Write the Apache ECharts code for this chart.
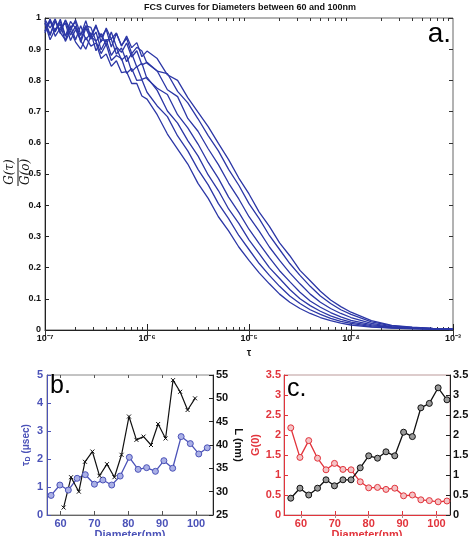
<!DOCTYPE html>
<html>
<head>
<meta charset="utf-8" />
<title>FCS Curves</title>
<script src="https://cdn.jsdelivr.net/npm/echarts@6/dist/echarts.min.js"></script>
</head>
<body style="margin:0">
<div id="main" style="width:474px;height:536px;"></div>
<script>
// ---------- panel a : normalised FCS curves ----------
var logTau = [-7,-6.95,-6.9,-6.85,-6.8,-6.75,-6.7,-6.65,-6.6,-6.55,-6.5,-6.45,-6.4,-6.35,-6.3,-6.25,-6.2,-6.15,-6.1,-6.05,-6,
  -5.9,-5.8,-5.7,-5.6,-5.5,-5.4,-5.3,-5.2,-5.1,-5,-4.9,-4.8,-4.7,-4.6,-4.5,-4.4,-4.3,-4.2,-4.1,-4,
  -3.8,-3.6,-3.4,-3.2,-3];
var g1 = [0.983,0.93,0.965,0.98,0.925,0.96,0.923,0.90,0.938,0.91,0.92,0.87,0.885,0.845,0.863,0.825,0.828,0.79,0.79,0.75,0.74,
  0.69,0.628,0.58,0.532,0.47,0.422,0.363,0.318,0.266,0.223,0.183,0.148,0.115,0.089,0.069,0.053,0.04,0.03,0.022,0.016,
  0.009,0.006,0.004,0.003,0.002];
var g2 = [0.957,0.994,0.941,0.968,0.983,0.928,0.963,0.927,0.90,0.942,0.925,0.886,0.916,0.864,0.88,0.87,0.823,0.838,0.80,0.802,0.762,
  0.718,0.684,0.622,0.574,0.515,0.465,0.405,0.357,0.303,0.258,0.213,0.175,0.14,0.109,0.085,0.065,0.05,0.037,0.028,0.021,
  0.011,0.007,0.005,0.003,0.002];
var g3 = [0.99,0.947,0.99,0.953,0.93,0.975,0.93,0.975,0.93,0.953,0.895,0.928,0.93,0.88,0.905,0.865,0.88,0.828,0.845,0.803,0.81,
  0.768,0.702,0.663,0.607,0.558,0.497,0.447,0.388,0.342,0.289,0.245,0.20,0.165,0.13,0.10,0.078,0.06,0.045,0.034,0.025,
  0.014,0.008,0.005,0.003,0.002];
var g4 = [0.952,0.99,0.958,0.996,0.943,0.97,0.987,0.922,0.967,0.932,0.955,0.898,0.93,0.932,0.884,0.904,0.86,0.886,0.843,0.855,0.805,
  0.775,0.755,0.69,0.648,0.596,0.537,0.486,0.426,0.377,0.323,0.277,0.232,0.19,0.155,0.121,0.093,0.073,0.056,0.042,0.031,
  0.017,0.009,0.006,0.004,0.002];
var g5 = [0.985,0.944,0.992,0.96,0.992,0.945,0.973,0.93,0.975,0.97,0.925,0.95,0.913,0.955,0.908,0.89,0.92,0.875,0.895,0.85,0.858,
  0.83,0.77,0.748,0.678,0.637,0.581,0.53,0.471,0.42,0.363,0.317,0.266,0.223,0.183,0.148,0.115,0.089,0.069,0.053,0.04,
  0.021,0.011,0.007,0.004,0.003];
var g6 = [0.958,0.997,0.955,0.989,0.941,0.989,0.967,0.944,0.991,0.938,0.973,0.938,0.963,0.907,0.95,0.912,0.935,0.886,0.906,0.894,0.855,
  0.83,0.822,0.765,0.728,0.677,0.623,0.574,0.515,0.464,0.405,0.357,0.303,0.258,0.213,0.175,0.14,0.109,0.085,0.065,0.05,
  0.026,0.013,0.008,0.005,0.003];
var g7 = [0.995,0.968,0.997,0.95,0.994,0.961,0.994,0.947,0.974,0.941,0.978,0.923,0.968,0.933,0.952,0.91,0.942,0.905,0.921,0.876,0.894,
  0.87,0.818,0.80,0.745,0.698,0.652,0.598,0.546,0.487,0.436,0.378,0.332,0.279,0.238,0.191,0.158,0.124,0.096,0.075,0.057,
  0.03,0.015,0.009,0.005,0.003];
var curves = [g1, g2, g3, g4, g5, g6, g7];
var minorTau = [2e-7,3e-7,4e-7,5e-7,6e-7,7e-7,8e-7,9e-7, 2e-6,3e-6,4e-6,5e-6,6e-6,7e-6,8e-6,9e-6,
  2e-5,3e-5,4e-5,5e-5,6e-5,7e-5,8e-5,9e-5, 2e-4,3e-4,4e-4,5e-4,6e-4,7e-4,8e-4,9e-4];

// ---------- panel b ----------
var diamB = [57.2,59.8,62.3,64.9,67.3,70.0,72.5,75.1,77.6,80.3,82.9,85.4,88.0,90.5,93.1,95.6,98.3,100.8,103.3];
var tauD = [0.70,1.07,0.89,1.31,1.44,1.10,1.25,1.07,1.39,2.06,1.63,1.69,1.56,1.94,1.67,2.80,2.55,2.18,2.40];
var diamL = [60.9,63.1,65.4,67.2,69.4,71.5,73.7,75.9,78.0,80.2,82.4,84.5,86.7,88.8,91.0,93.2,95.3,97.5,99.7];
var lenL = [26.6,33.1,30.0,36.4,38.6,33.4,35.9,33.1,37.9,46.1,41.1,41.8,40.0,44.5,41.4,53.9,51.4,47.5,50.0];

// ---------- panel c ----------
var diamC = [57.0,59.7,62.3,64.9,67.4,69.9,72.4,74.8,77.5,80.0,82.6,85.1,87.7,90.3,92.9,95.4,97.9,100.5,103.1];
var g0 = [2.18,1.44,1.86,1.42,1.13,1.29,1.14,1.13,0.83,0.68,0.69,0.64,0.67,0.48,0.50,0.38,0.36,0.33,0.35];
var nPart = [0.42,0.67,0.50,0.67,0.88,0.73,0.88,0.88,1.18,1.48,1.42,1.58,1.48,2.07,1.96,2.68,2.79,3.18,2.88];

var diamTicks = [60, 70, 80, 90, 100];

var FONT = 'Liberation Sans, Arial, sans-serif';
var NARROW = 'Liberation Sans Narrow, Liberation Sans, Arial, sans-serif';
var BLUE = '#2c37a6';
var BBLUE = '#4b52b8';
var RED = '#e2343c';
var sup = {'-': '⁻', '0': '⁰', '1': '¹', '2': '²', '3': '³', '4': '⁴', '5': '⁵', '6': '⁶', '7': '⁷', '8': '⁸', '9': '⁹'};

function pow10Label(v) {
  var e = String(Math.round(Math.log10(v)));
  return '10' + e.split('').map(function (c) { return sup[c]; }).join('');
}
function pair(xs, ys) {
  return xs.map(function (x, i) { return [x, ys[i]]; });
}

var chart = echarts.init(document.getElementById('main'));

function tickOnly(extra) {
  var base = {
    axisLine: {show: false},
    axisLabel: {show: false},
    splitLine: {show: false},
    axisTick: {show: true, inside: true, length: 4, lineStyle: {color: '#333', width: 1}}
  };
  return Object.assign(base, extra);
}

var series = curves.map(function (g) {
  return {
    type: 'line', xAxisIndex: 0, yAxisIndex: 0,
    data: logTau.map(function (v, i) { return [Math.pow(10, v), g[i]]; }),
    showSymbol: false, symbol: 'none',
    lineStyle: {color: BLUE, width: 1.3},
    animation: false
  };
});

series.push({
  type: 'line', xAxisIndex: 4, yAxisIndex: 2, data: pair(diamB, tauD),
  symbol: 'circle', symbolSize: 6,
  itemStyle: {color: '#aab0e6', borderColor: BBLUE, borderWidth: 1},
  lineStyle: {color: BBLUE, width: 1.3}, animation: false
});
series.push({
  type: 'line', xAxisIndex: 4, yAxisIndex: 3, data: pair(diamL, lenL),
  symbol: 'path://M0,0L10,10M10,0L0,10', symbolSize: 4,
  itemStyle: {color: '#111', borderColor: '#111', borderWidth: 1},
  lineStyle: {color: '#111', width: 1.2}, animation: false
});
series.push({
  type: 'line', xAxisIndex: 6, yAxisIndex: 4, data: pair(diamC, g0),
  symbol: 'circle', symbolSize: 6,
  itemStyle: {color: '#f4c4c6', borderColor: RED, borderWidth: 1},
  lineStyle: {color: RED, width: 1.3}, animation: false
});
series.push({
  type: 'line', xAxisIndex: 6, yAxisIndex: 5, data: pair(diamC, nPart),
  symbol: 'circle', symbolSize: 6,
  itemStyle: {color: '#9a9a9a', borderColor: '#111', borderWidth: 1},
  lineStyle: {color: '#111', width: 1.3}, animation: false
});

var option = {
  backgroundColor: '#fff',
  animation: false,
  grid: [
    {left: 45, right: 21, top: 18, bottom: 206, show: true, borderColor: '#666', borderWidth: 1, outerBoundsMode: 'none'},
    {left: 47, right: 261, top: 375, bottom: 21, show: true, borderColor: '#888', borderWidth: 1, outerBoundsMode: 'none'},
    {left: 284, right: 24, top: 375, bottom: 21, show: true, borderColor: '#b99', borderWidth: 1, outerBoundsMode: 'none'}
  ],
  xAxis: [
    {
      type: 'log', gridIndex: 0, position: 'bottom', min: 1e-7, max: 1e-3, logBase: 10,
      axisLine: {lineStyle: {color: '#222'}},
      axisTick: {inside: true, length: 6, lineStyle: {color: '#222'}},
      splitLine: {show: false},
      axisLabel: {color: '#111', fontSize: 9, fontFamily: FONT, fontWeight: 'bold', margin: 4, formatter: pow10Label},
      name: 'τ', nameLocation: 'middle', nameGap: 18,
      nameTextStyle: {color: '#111', fontSize: 10, fontFamily: FONT, fontWeight: 'bold'}
    },
    tickOnly({type: 'log', gridIndex: 0, position: 'top', min: 1e-7, max: 1e-3, axisTick: {inside: true, length: 6, lineStyle: {color: '#333'}}}),
    tickOnly({type: 'log', gridIndex: 0, position: 'bottom', min: 1e-7, max: 1e-3, axisTick: {inside: true, length: 3, customValues: minorTau, lineStyle: {color: '#333'}}}),
    tickOnly({type: 'log', gridIndex: 0, position: 'top', min: 1e-7, max: 1e-3, axisTick: {inside: true, length: 3, customValues: minorTau, lineStyle: {color: '#333'}}}),
    {
      type: 'value', gridIndex: 1, position: 'bottom', min: 56, max: 105,
      axisLine: {lineStyle: {color: '#666'}},
      axisTick: {inside: true, length: 4, customValues: diamTicks, lineStyle: {color: '#555'}},
      splitLine: {show: false},
      axisLabel: {customValues: diamTicks, color: BBLUE, fontSize: 11, fontFamily: NARROW, fontWeight: 'bold', margin: 3},
      name: 'Diameter(nm)', nameLocation: 'middle', nameGap: 14,
      nameTextStyle: {color: BBLUE, fontSize: 11, fontFamily: NARROW, fontWeight: 'bold'}
    },
    tickOnly({type: 'value', gridIndex: 1, position: 'top', min: 56, max: 105, axisTick: {inside: true, length: 3, customValues: diamTicks, lineStyle: {color: '#555'}}}),
    {
      type: 'value', gridIndex: 2, position: 'bottom', min: 55, max: 104,
      axisLine: {lineStyle: {color: RED}},
      axisTick: {inside: true, length: 4, customValues: diamTicks, lineStyle: {color: RED}},
      splitLine: {show: false},
      axisLabel: {customValues: diamTicks, color: RED, fontSize: 11, fontFamily: NARROW, fontWeight: 'bold', margin: 3},
      name: 'Diameter(nm)', nameLocation: 'middle', nameGap: 14,
      nameTextStyle: {color: RED, fontSize: 11, fontFamily: NARROW, fontWeight: 'bold'}
    },
    tickOnly({type: 'value', gridIndex: 2, position: 'top', min: 55, max: 104, axisTick: {inside: true, length: 3, customValues: diamTicks, lineStyle: {color: '#a88'}}})
  ],
  yAxis: [
    {
      type: 'value', gridIndex: 0, position: 'left', min: 0, max: 1, interval: 0.1,
      axisLine: {show: true, lineStyle: {color: '#222'}},
      axisTick: {show: true, inside: true, length: 4, lineStyle: {color: '#222'}},
      splitLine: {show: false},
      axisLabel: {color: '#111', fontSize: 9, fontFamily: FONT, fontWeight: 'bold', margin: 4}
    },
    tickOnly({type: 'value', gridIndex: 0, position: 'right', min: 0, max: 1, interval: 0.1}),
    {
      type: 'value', gridIndex: 1, position: 'left', min: 0, max: 5, interval: 1,
      axisLine: {show: true, lineStyle: {color: BBLUE}},
      axisTick: {show: true, inside: true, length: 4, lineStyle: {color: BBLUE}},
      splitLine: {show: false},
      axisLabel: {color: BBLUE, fontSize: 11, fontFamily: NARROW, fontWeight: 'bold', margin: 4},
      name: '{t|τ}{s|D} (μsec)', nameLocation: 'middle', nameRotate: 90, nameGap: 15,
      nameTextStyle: {color: BBLUE, fontSize: 10, fontFamily: NARROW, fontWeight: 'bold',
        rich: {t: {color: BBLUE, fontSize: 10, fontWeight: 'bold'}, s: {color: BBLUE, fontSize: 7, fontWeight: 'bold', padding: [4, 0, 0, 0]}}}
    },
    {
      type: 'value', gridIndex: 1, position: 'right', min: 25, max: 55, interval: 5,
      axisLine: {show: true, lineStyle: {color: '#222'}},
      axisTick: {show: true, inside: true, length: 4, lineStyle: {color: '#222'}},
      splitLine: {show: false},
      axisLabel: {color: '#111', fontSize: 11, fontFamily: NARROW, fontWeight: 'bold', margin: 3},
      name: 'L (nm)', nameLocation: 'middle', nameRotate: -90, nameGap: 19,
      nameTextStyle: {color: '#111', fontSize: 11, fontFamily: NARROW, fontWeight: 'bold'}
    },
    {
      type: 'value', gridIndex: 2, position: 'left', min: 0, max: 3.5, interval: 0.5,
      axisLine: {show: true, lineStyle: {color: RED}},
      axisTick: {show: true, inside: true, length: 4, lineStyle: {color: RED}},
      splitLine: {show: false},
      axisLabel: {color: RED, fontSize: 11, fontFamily: NARROW, fontWeight: 'bold', margin: 3},
      name: 'G(0)', nameLocation: 'middle', nameRotate: 90, nameGap: 13,
      nameTextStyle: {color: RED, fontSize: 11, fontFamily: NARROW, fontWeight: 'bold'}
    },
    {
      type: 'value', gridIndex: 2, position: 'right', min: 0, max: 3.5, interval: 0.5,
      axisLine: {show: true, lineStyle: {color: '#222'}},
      axisTick: {show: true, inside: true, length: 4, lineStyle: {color: '#222'}},
      splitLine: {show: false},
      axisLabel: {color: '#111', fontSize: 11, fontFamily: NARROW, fontWeight: 'bold', margin: 3},
      name: 'N', nameLocation: 'middle', nameRotate: -90, nameGap: 19,
      nameTextStyle: {color: '#111', fontSize: 11, fontFamily: NARROW, fontWeight: 'bold'}
    }
  ],
  graphic: [
    {type: 'text', left: 249 - 105, top: 3, style: {text: 'FCS Curves for Diameters between 60 and 100nm', fill: '#111',
      font: 'bold 9px ' + FONT}},
    {type: 'text', x: 451, y: 20, style: {text: 'a.', fill: '#000', font: '28px ' + FONT, textAlign: 'right'}},
    {type: 'text', x: 50, y: 374, style: {text: 'b.', fill: '#000', font: '25px ' + FONT}},
    {type: 'text', x: 287, y: 377, style: {text: 'c.', fill: '#000', font: '25px ' + FONT}},
    {
      type: 'group', x: 18, y: 172, rotation: Math.PI / 2,
      children: [
        {type: 'text', x: 0, y: -8, style: {text: 'G(τ)', fill: '#111', font: 'italic 12px DejaVu Serif, serif', textAlign: 'center', textVerticalAlign: 'middle'}},
        {type: 'line', shape: {x1: -14, y1: 0, x2: 14, y2: 0}, style: {stroke: '#111', lineWidth: 1}},
        {type: 'text', x: 0, y: 8, style: {text: 'G(o)', fill: '#111', font: 'italic 12px DejaVu Serif, serif', textAlign: 'center', textVerticalAlign: 'middle'}}
      ]
    }
  ],
  series: series
};

chart.setOption(option);
</script>
</body>
</html>
